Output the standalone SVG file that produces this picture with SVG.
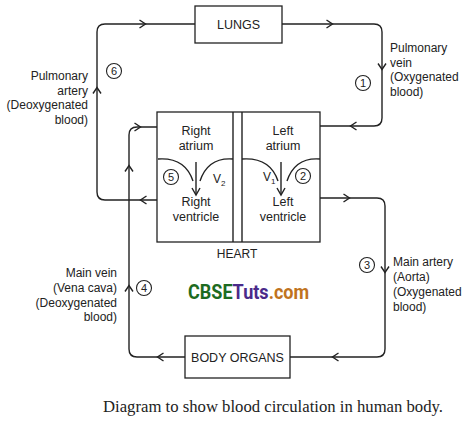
<svg xmlns="http://www.w3.org/2000/svg" xmlns:xlink="http://www.w3.org/1999/xlink" width="473" height="421" viewBox="0 0 473 421">
<style>
.ln{fill:none;stroke:#222;stroke-width:1.4}
.bx{fill:#fff;stroke:#222;stroke-width:1.3}
.t{font-family:"Liberation Sans",Arial,sans-serif;font-size:12px;fill:#222}
.tb{font-family:"Liberation Sans",Arial,sans-serif;font-size:12.5px;fill:#222}
.c{fill:#fff;stroke:#222;stroke-width:1.1}
.n{font-family:"Liberation Sans",Arial,sans-serif;font-size:11px;fill:#222;text-anchor:middle}
.m{text-anchor:middle}
.e{text-anchor:end}
.wm{font-family:Roboto,"Liberation Sans",sans-serif;font-weight:bold;font-size:21px}
</style>
<defs>
<path id="chev" d="M-3.5,-4 L2.5,0 L-3.5,4" fill="none" stroke="#222" stroke-width="1.4"/>
</defs>
<rect width="473" height="421" fill="#fff"/>
<g id="connectors">
<path class="ln" d="M157,200 H105 Q97,200 97,192 V32 Q97,24 105,24 H195"/>
<path class="ln" d="M282,24 H374 Q382,24 382,32 V118 Q382,126 374,126 H320"/>
<path class="ln" d="M320,198 H377 Q385,198 385,206 V349 Q385,357 377,357 H290"/>
<path class="ln" d="M185,357 H137 Q129,357 129,349 V135 Q129,127 137,127 H157"/>
<use xlink:href="#chev" transform="translate(143,24)"/>
<use xlink:href="#chev" transform="translate(97,90) rotate(-90)"/>
<use xlink:href="#chev" transform="translate(143,200) rotate(180)"/>
<use xlink:href="#chev" transform="translate(330,24)"/>
<use xlink:href="#chev" transform="translate(382,67) rotate(90)"/>
<use xlink:href="#chev" transform="translate(353,126) rotate(180)"/>
<use xlink:href="#chev" transform="translate(347,198)"/>
<use xlink:href="#chev" transform="translate(385,270) rotate(90)"/>
<use xlink:href="#chev" transform="translate(335,357) rotate(180)"/>
<use xlink:href="#chev" transform="translate(160,357) rotate(180)"/>
<use xlink:href="#chev" transform="translate(129,288) rotate(-90)"/>
<use xlink:href="#chev" transform="translate(129,168) rotate(-90)"/>
<use xlink:href="#chev" transform="translate(138,127)"/>
</g>
<g id="lungs">
<rect class="bx" x="195" y="6" width="87" height="37"/>
<text class="tb m" x="238.5" y="29">LUNGS</text>
</g>
<g id="body-organs">
<rect class="bx" x="185" y="336" width="105" height="42"/>
<text class="tb m" x="237.5" y="361.5">BODY ORGANS</text>
</g>
<g id="heart">
<rect class="bx" x="157" y="112" width="163" height="130"/>
<line class="ln" x1="233" y1="112" x2="233" y2="242"/>
<line class="ln" x1="242" y1="112" x2="242" y2="242"/>
<text class="tb m" x="196" y="135">Right</text>
<text class="tb m" x="196" y="150">atrium</text>
<text class="tb m" x="283" y="135">Left</text>
<text class="tb m" x="283" y="150">atrium</text>
<text class="tb m" x="196" y="206">Right</text>
<text class="tb m" x="196" y="221">ventricle</text>
<text class="tb m" x="283" y="206">Left</text>
<text class="tb m" x="283" y="221">ventricle</text>
<path class="ln" d="M158,159 Q185,157 193,181"/>
<path class="ln" d="M200,181 Q208,157 233,159"/>
<path class="ln" d="M242,159 Q270,157 278,181"/>
<path class="ln" d="M287,181 Q295,157 320,159"/>
<line class="ln" x1="196" y1="162" x2="196" y2="194"/>
<path class="ln" d="M192,188 L196,195 L200,188"/>
<line class="ln" x1="281" y1="162" x2="281" y2="194"/>
<path class="ln" d="M277,188 L281,195 L285,188"/>
<text class="t" x="213" y="183">V<tspan font-size="8" dy="3">2</tspan></text>
<text class="t" x="263" y="181">V<tspan font-size="8" dy="3">1</tspan></text>
<circle class="c" cx="171" cy="177" r="7.5"/>
<text class="n" x="171" y="181">5</text>
<circle class="c" cx="303" cy="176" r="7.5"/>
<text class="n" x="303" y="180">2</text>
<text class="t m" x="237" y="258">HEART</text>
</g>
<g id="pulmonary-artery">
<circle class="c" cx="114" cy="71" r="7.5"/>
<text class="n" x="114" y="75">6</text>
<text class="t e" x="88" y="80">Pulmonary</text>
<text class="t e" x="88" y="94.5">artery</text>
<text class="t e" x="88" y="109">(Deoxygenated</text>
<text class="t e" x="88" y="123.5">blood)</text>
</g>
<g id="pulmonary-vein">
<circle class="c" cx="363" cy="83" r="7.5"/>
<text class="n" x="363" y="87">1</text>
<text class="t" x="390" y="52">Pulmonary</text>
<text class="t" x="390" y="66.5">vein</text>
<text class="t" x="390" y="81">(Oxygenated</text>
<text class="t" x="390" y="95.5">blood)</text>
</g>
<g id="aorta">
<circle class="c" cx="367" cy="265" r="7.5"/>
<text class="n" x="367" y="269">3</text>
<text class="t" x="393" y="266">Main artery</text>
<text class="t" x="393" y="281">(Aorta)</text>
<text class="t" x="393" y="296">(Oxygenated</text>
<text class="t" x="393" y="310.5">blood)</text>
</g>
<g id="vena-cava">
<circle class="c" cx="144" cy="288" r="7.5"/>
<text class="n" x="144" y="292">4</text>
<text class="t e" x="117" y="277">Main vein</text>
<text class="t e" x="117" y="292">(Vena cava)</text>
<text class="t e" x="117" y="306.5">(Deoxygenated</text>
<text class="t e" x="117" y="321">blood)</text>
</g>
<g id="watermark" transform="translate(188,299) scale(0.86,1)">
<text class="wm" x="0" y="0"><tspan fill="#1d6b21">CBSE</tspan><tspan fill="#4a2a8a">Tuts</tspan><tspan fill="#c0731e">.com</tspan></text>
</g>
<text x="103" y="412" font-family="'Liberation Serif','Times New Roman',serif" font-size="16.5" fill="#222" textLength="340" lengthAdjust="spacingAndGlyphs">Diagram to show blood circulation in human body.</text>
</svg>
